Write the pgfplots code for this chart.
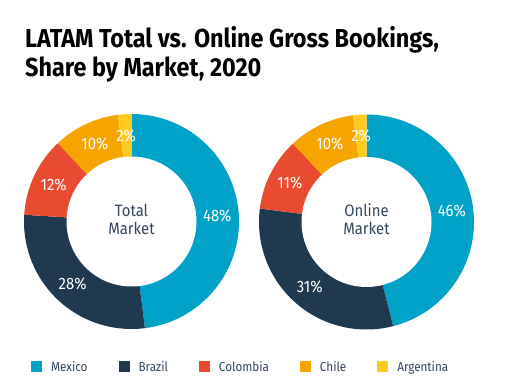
\documentclass[border=0pt]{standalone}
\usepackage{fontspec}
\setmainfont{Fira Sans}
\newfontfamily\titlefont{Fira Sans}[FakeStretch=0.9]
\newfontfamily\narrowfont{Fira Sans}[FakeStretch=0.9]
\usepackage{pgfplots}
\usepackage{pgfplotstable}
\pgfplotsset{compat=1.18}

\definecolor{c0}{HTML}{00A3C7}
\definecolor{c1}{HTML}{1F3950}
\definecolor{c2}{HTML}{E84B2F}
\definecolor{c3}{HTML}{F6A400}
\definecolor{c4}{HTML}{FFCB22}
\definecolor{txt}{HTML}{33465B}

\pgfplotstableread{
market total online
Mexico 48 46
Brazil 28 31
Colombia 12 11
Chile 10 10
Argentina 2 2
}\shares

% donut: #1 column, #2 cx, #3 cy, #4 extra options
\newcommand\donut[4]{%
  \def\cum{0}%
  \pgfplotsforeachungrouped \i in {0,...,4}{%
    \pgfplotstablegetelem{\i}{#1}\of\shares
    \let\v\pgfplotsretval
    \pgfplotstablegetelem{\i}{market}\of\shares
    \let\nm\pgfplotsretval
    \pgfmathsetmacro\aS{90-3.6*\cum}%
    \pgfmathsetmacro\aE{90-3.6*(\cum+\v)}%
    \pgfmathsetmacro\aM{(\aS+\aE)/2}%
    \pgfmathsetmacro\cum{\cum+\v}%
    \pgfmathsetmacro\lx{#2+86*cos(\aM)}%
    \pgfmathsetmacro\ly{#3+86*sin(\aM)}%
    \edef\tmp{\noexpand\addplot[fill=c\i, draw=none, #4, domain=\aE:\aS, samples=90, variable=\noexpand\t]
      ({#2+107.5*cos(\noexpand\t)},{#3+107.5*sin(\noexpand\t)}) -- (axis cs:#2,#3) -- cycle;}%
    \tmp
    \edef\tmp{\noexpand\addlegendentry{\nm}}%
    \tmp
    \edef\tmp{\noexpand\node[text=white, font=\noexpand\narrowfont\noexpand\fontsize{16.5bp}{18bp}\noexpand\selectfont, anchor=center] at (axis cs:\lx,\ly) {\v\noexpand\%};}%
    \tmp
  }%
  \addplot[fill=white, draw=none, forget plot, domain=0:360, samples=120, variable=\t]
    ({#2+65*cos(\t)},{#3+65*sin(\t)}) -- cycle;
}

\begin{document}
\begin{tikzpicture}
\begin{axis}[
  x=1bp, y=1bp,
  xmin=0, xmax=510, ymin=0, ymax=388,
  hide axis, clip=false,
  legend columns=5,
  legend style={draw=none, fill=none, inner sep=0pt, outer sep=0pt,
    at={(axis cs:31,21.3)}, anchor=west,
    font=\color{txt}\narrowfont\fontsize{13bp}{15bp}\selectfont,
    nodes={inner sep=0pt, anchor=base west},
    /tikz/every odd column/.append style={column sep=9bp},
    /tikz/every even column/.append style={column sep=31bp}},
  legend cell align=left,
  legend image code/.code={\fill[#1] (0bp,-1bp) rectangle (11bp,10bp);},
]
\path (axis cs:0,0) rectangle (axis cs:510,388);
\donut{total}{131.5}{166.5}{}
\donut{online}{366.5}{166}{forget plot}
\node[anchor=base west, align=left, inner sep=0pt, font=\titlefont\bfseries\fontsize{26bp}{29.5bp}\selectfont]
  at (axis cs:25,311.3) {LATAM Total vs. Online Gross Bookings,\\Share by Market, 2020};
\node[align=center, inner sep=0pt, anchor=base, text=txt, font=\narrowfont\fontsize{16.5bp}{18.3bp}\selectfont]
  at (axis cs:131.5,153.7) {Total\\Market};
\node[align=center, inner sep=0pt, anchor=base, text=txt, font=\narrowfont\fontsize{16.5bp}{18.3bp}\selectfont]
  at (axis cs:366.5,153.7) {Online\\Market};
\end{axis}
\end{tikzpicture}
\end{document}
